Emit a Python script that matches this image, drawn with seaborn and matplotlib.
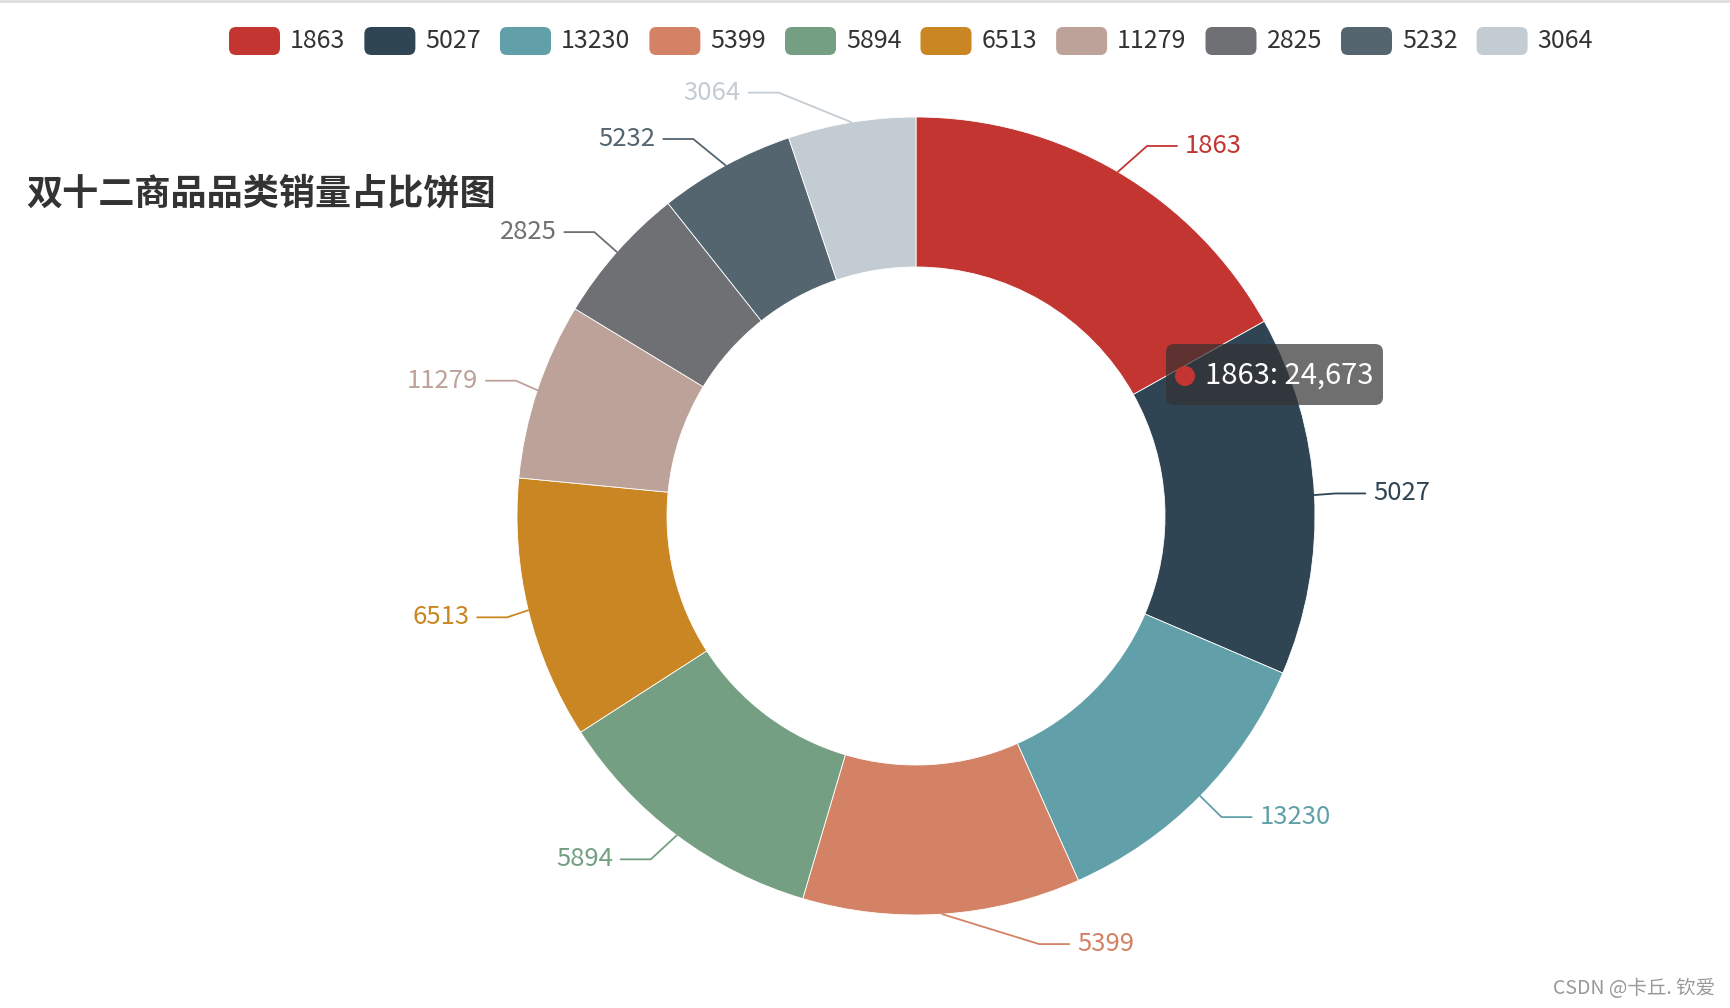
import numpy as np
import matplotlib
matplotlib.use("Agg")
import matplotlib.pyplot as plt
from matplotlib.patches import FancyBboxPatch, Circle
import seaborn as sns

# data
categories = ["1863", "5027", "13230", "5399", "5894", "6513", "11279", "2825", "5232", "3064"]
sales = [24673, 21260, 17370, 16440, 16520, 15540, 10470, 8240, 8040, 7550]
colors = ["#c23531", "#2f4554", "#61a0a8", "#d48265", "#749f83",
          "#ca8622", "#bda29a", "#6e7074", "#546570", "#c4ccd3"]
title = "双十二商品品类销量占比饼图"

# horizontal nudges of the label elbows (echarts pushes some labels sideways)
elbow_shift = [14, -9, 0, 95, -8, 8, 7, 0, -18, -68]

sns.set_theme(style="white")
plt.rcParams["font.family"] = ["Noto Sans CJK SC", "DejaVu Sans"]

W, H = 1730, 1008
fig = plt.figure(figsize=(W / 100, H / 100), dpi=100)
ax = fig.add_axes([0, 0, 1, 1])

def Y(y):
    return H - y

cx, cy = 916, 516
r_out, r_in = 399, 249
palette = sns.color_palette(colors)

wedges, _ = ax.pie(sales, colors=palette, startangle=90, counterclock=False,
                   center=(cx, Y(cy)), radius=r_out,
                   wedgeprops=dict(width=r_out - r_in, edgecolor="white", linewidth=0.6))
ax.set_xlim(0, W)
ax.set_ylim(0, H)
ax.set_aspect("equal")
ax.axis("off")

# leader lines + labels
total = sum(sales)
start = 0.0
for name, val, col, shift in zip(categories, sales, colors, elbow_shift):
    span = val / total * 2 * np.pi
    mid = start + span / 2
    start += span
    sx, sy = np.sin(mid), np.cos(mid)
    p1 = (cx + r_out * sx, Y(cy) + r_out * sy)
    p2 = (cx + (r_out + 30) * sx + shift, Y(cy) + (r_out + 30) * sy)
    side = 1 if sx >= 0 else -1
    p3 = (p2[0] + side * 30, p2[1])
    ax.plot([p1[0], p2[0], p3[0]], [p1[1], p2[1], p3[1]], color=col, lw=1.3)
    ax.text(p3[0] + side * 8, p3[1], name, color=col, fontsize=18.5,
            ha="left" if side > 0 else "right", va="center")

# title
ax.text(26, Y(194), title, fontsize=26, fontweight="bold", color="#333333",
        ha="left", va="center")

# legend
fig.canvas.draw()
renderer = fig.canvas.get_renderer()
x = 229
ly = 41
for name, col in zip(categories, colors):
    ax.add_patch(FancyBboxPatch((x, Y(ly) - 14), 51, 28,
                                boxstyle="round,pad=0,rounding_size=7",
                                facecolor=col, edgecolor="none"))
    t = ax.text(x + 61, Y(ly), name, fontsize=18, color="#333333",
                ha="left", va="center")
    bb = t.get_window_extent(renderer=renderer)
    x = x + 61 + bb.width + 19

# tooltip
ax.add_patch(FancyBboxPatch((1166, Y(405)), 217, 61,
                            boxstyle="round,pad=0,rounding_size=8",
                            facecolor=(50 / 255, 50 / 255, 50 / 255, 0.7),
                            edgecolor="none", zorder=5))
ax.add_patch(Circle((1185, Y(376)), 10, facecolor=colors[0], edgecolor="none", zorder=6))
ax.text(1205, Y(376), f"{categories[0]}: {sales[0]:,}", fontsize=21, color="white",
        ha="left", va="center", zorder=6)

# watermark and top border
ax.text(1715, Y(988), "CSDN @卡丘. 钦爱", fontsize=14, color="#999999",
        ha="right", va="center")
ax.plot([0, W], [H - 1, H - 1], color="#dddddd", lw=2)

fig.savefig("out.png", dpi=100)
